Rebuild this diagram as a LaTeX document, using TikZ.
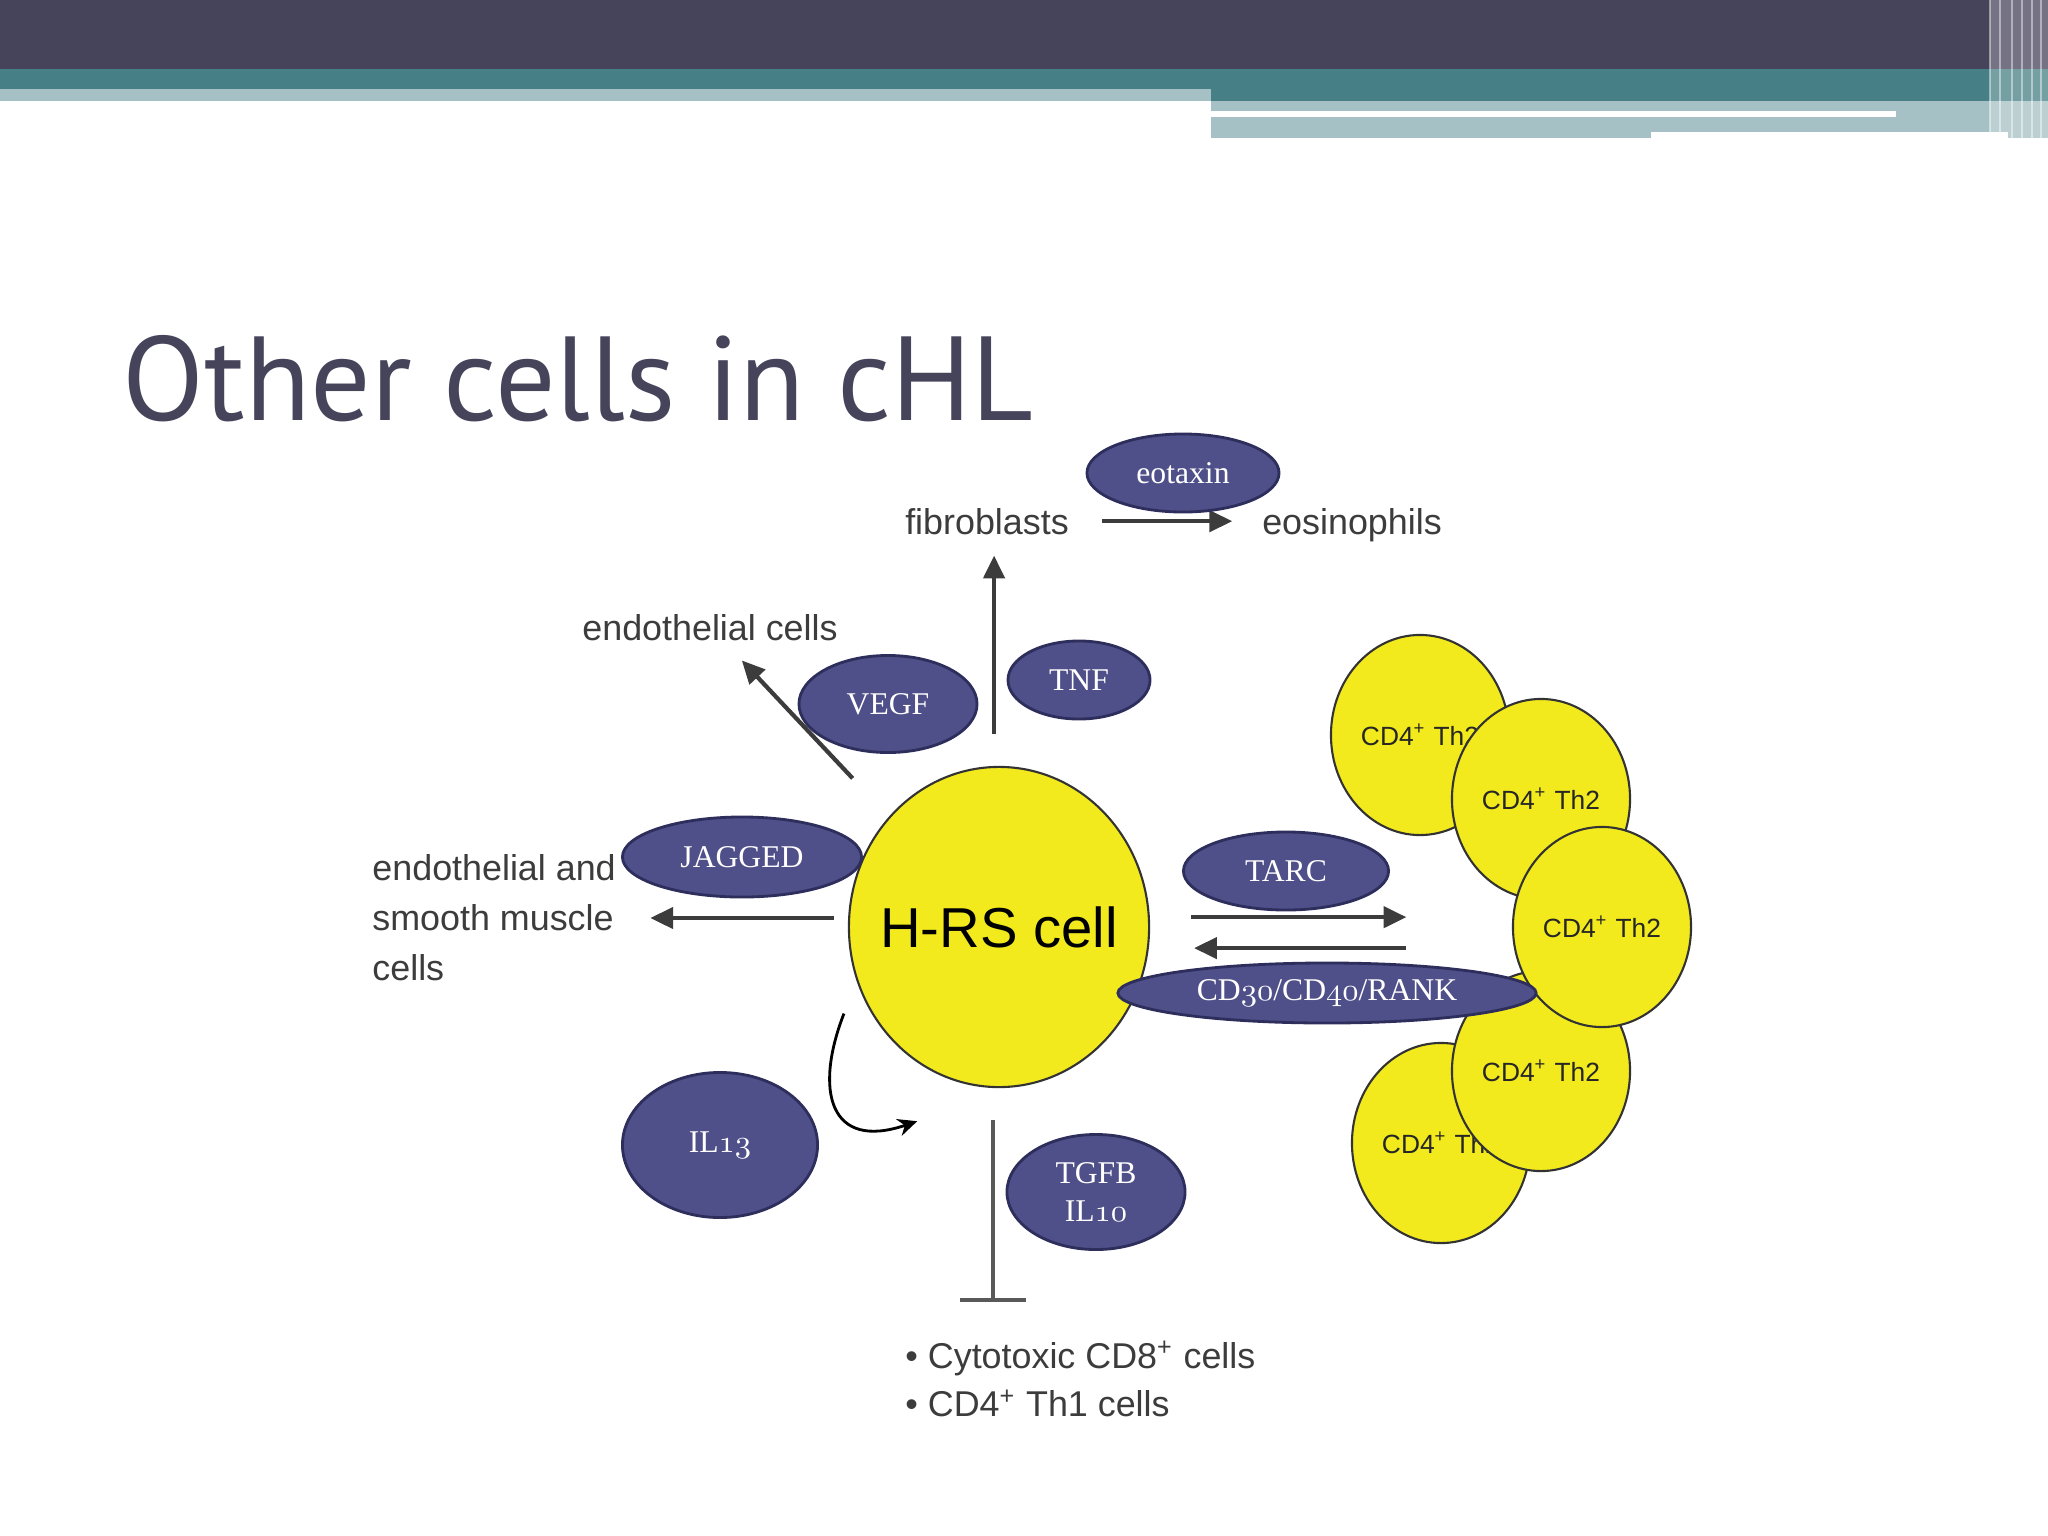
\documentclass[tikz,border=0pt]{standalone}
\usepackage{fontspec}
\usetikzlibrary{positioning, shapes.geometric, arrows.meta, calc}
\newfontfamily\sansdiag{Liberation Sans}
\newfontfamily\serifdiag{Liberation Serif}
\newfontfamily\titlefont{PT Sans}
\definecolor{hlslate}{HTML}{46445B}
\definecolor{hlteal}{HTML}{467F85}
\definecolor{hlpale}{HTML}{A6C1C5}
\definecolor{hlblue}{HTML}{4F4F89}
\definecolor{hlblueline}{HTML}{2E2E5C}
\definecolor{hlyellow}{HTML}{F2EA1C}
\definecolor{hlink}{HTML}{3C3C3C}
\newcommand{\osf}[1]{{\usefont{OML}{cmm}{m}{it}#1}}

\begin{document}
\begin{tikzpicture}[x=0.01cm, y=-0.01cm,
    cytokine/.style={ellipse, fill=hlblue, draw=hlblueline, line width=0.8pt,
      inner sep=0pt, text=white, align=center,
      font=\serifdiag\fontsize{9}{11}\selectfont},
    tcell/.style={ellipse, fill=hlyellow, draw=black!80, line width=0.6pt,
      inner sep=0pt, minimum width=1.78cm, minimum height=2cm, text=black!85,
      font=\sansdiag\fontsize{7.5}{9}\selectfont},
    lbl/.style={text=hlink, font=\sansdiag\fontsize{10.2}{14.2}\selectfont},
    arr/.style={draw=hlink, line width=1.2pt, -{Triangle[length=6.5pt, width=6pt]}},
    inhib/.style={draw=hlink!85, line width=1.1pt, -{Bar[width=19pt, line width=1.1pt]}},
    loopy/.style={draw=black, line width=0.8pt, -{Stealth[length=5.5pt, width=5pt]}}]
    \useasboundingbox (0,0) rectangle (2048,1536);
    \fill[white] (0,0) rectangle (2048,1536);

    \fill[hlslate] (0,0) rectangle (2048,69);
    \fill[hlteal] (0,69) rectangle (2048,101);
    \fill[hlpale] (0,89) rectangle (1211,101);
    \fill[hlpale] (1211,101) rectangle (2048,138);
    \fill[white] (1211,111) rectangle (1896,117);
    \fill[white] (1651,132) rectangle (2008,138);
    \fill[white, opacity=0.25] (1990,0) rectangle (2048,138);
    \foreach \sx in {1990,2000,2012,2022,2032,2041}
      \draw[white, opacity=0.45, line width=0.6pt] (\sx,0) -- (\sx,138);

    \node[anchor=base west, inner sep=0pt, text=hlslate,
      font=\titlefont\fontsize{34}{40}\selectfont] (title) at (122,420) {Other cells in cHL};

    \node[tcell] (th1) at (1420,735) {CD4\textsuperscript{+} Th2};
    \node[tcell] (th2) at (1541,799) {CD4\textsuperscript{+} Th2};
    \node[tcell] (th5) at (1441,1143) {CD4\textsuperscript{+} Th2};
    \node[tcell] (th4) at (1541,1071) {CD4\textsuperscript{+} Th2};
    \node[tcell] (th3) at (1602,927) {CD4\textsuperscript{+} Th2};

    \node[tcell, minimum width=3cm, minimum height=3.2cm,
      label={[text=black, font=\sansdiag\fontsize{16}{18}\selectfont]center:H-RS cell}]
      (hrs) at (999,927) {};

    \node[lbl, anchor=base] (fib) at (987,534) {fibroblasts};
    \node[lbl, anchor=base] (eos) at (1352,534) {eosinophils};
    \node[lbl, anchor=base] (endo) at (710,640) {endothelial cells};
    \node[lbl, anchor=west, align=left] (smc) at (360,918)
      {endothelial and\\smooth muscle\\cells};
    \node[lbl, anchor=north west, align=left, font=\sansdiag\fontsize{10.2}{13.7}\selectfont]
      (cyto) at (893,1329)
      {\textbullet\ Cytotoxic CD8\textsuperscript{+} cells\\\textbullet\ CD4\textsuperscript{+} Th1 cells};

    \draw[arr, shorten <=6pt, shorten >=5pt] (fib.east) -- (fib.east -| eos.west);
    \draw[arr, shorten <=9pt, shorten >=2.5pt] ([xshift=-1.4pt]hrs.north) -- ([xshift=-1.4pt]hrs.north |- fib.south);
    \draw[arr, shorten <=15pt, shorten >=3pt] (hrs.135) -- ([xshift=7pt]endo.south);
    \draw[arr, shorten <=4pt, shorten >=6.3pt] (hrs.west |- smc.east) -- (smc.east);
    \draw[arr, shorten <=11.7pt, shorten >=30pt] ([yshift=2.8pt]hrs.east) -- ([yshift=2.8pt]th3.west);
    \draw[arr, shorten <=30pt, shorten >=12.5pt] ([yshift=-6pt]th3.west) -- ([yshift=-6pt]hrs.east);
    \draw[inhib, shorten <=9pt, shorten >=7.7pt] ([xshift=-1.7pt]hrs.south) -- ([xshift=-1.7pt]hrs.south |- cyto.north);
    \draw[loopy] ([xshift=-6.3pt, yshift=-2.8pt]hrs.210)
      .. controls +(-30,77) and +(-88,30) .. ([xshift=-7.7pt, yshift=-12.5pt]hrs.250);

    \node[cytokine, minimum width=1.92cm, minimum height=0.78cm] (eotaxin) at (1183,473) {eotaxin};
    \node[cytokine, minimum width=1.42cm, minimum height=0.78cm] (tnf) at (1079,680) {TNF};
    \node[cytokine, minimum width=1.78cm, minimum height=0.97cm] (vegf) at (888,704) {VEGF};
    \node[cytokine, minimum width=2.39cm, minimum height=0.8cm] (jagged) at (742,857) {JAGGED};
    \node[cytokine, minimum width=2.05cm, minimum height=0.78cm] (tarc) at (1286,871) {TARC};
    \node[cytokine, minimum width=4.18cm, minimum height=0.6cm] (rank) at (1327,993)
      {CD\osf{30}/CD\osf{40}/RANK};
    \node[cytokine, minimum width=1.95cm, minimum height=1.45cm] (il) at (720,1145) {IL\osf{13}};
    \node[cytokine, minimum width=1.78cm, minimum height=1.15cm] (tgfb) at (1096,1192)
      {TGFB\\IL\osf{10}};
  \end{tikzpicture}
\end{document}
